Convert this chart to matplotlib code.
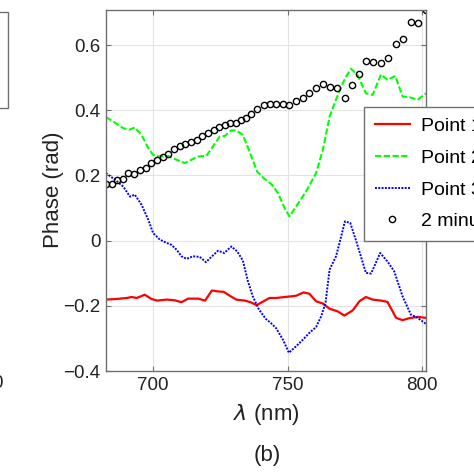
import matplotlib
matplotlib.use("Agg")
import matplotlib.pyplot as plt
from matplotlib.patches import Rectangle

plt.rcParams['font.family'] = ['Liberation Sans', 'DejaVu Sans']

# 2 minus 1 (circles)
lam_c = [682.6, 684.7, 686.8, 688.8, 690.9, 693.0, 695.2, 697.3, 699.4, 701.5,
         703.6, 705.7, 707.9, 710.0, 712.1, 714.2, 716.2, 718.4, 720.5, 722.6,
         724.6, 726.7, 728.8, 730.9, 732.9, 734.6, 736.5, 738.8, 741.1, 743.4,
         745.7, 748.3, 750.7, 753.2, 755.7, 758.1, 760.6, 763.3, 765.9, 768.4,
         771.2, 774.0, 776.6, 779.1, 781.9, 784.6, 787.4, 790.1, 792.9, 795.7,
         798.5, 801.4]
diff21 = [0.173, 0.173, 0.186, 0.189, 0.207, 0.205, 0.217, 0.224, 0.238, 0.246,
          0.256, 0.266, 0.281, 0.291, 0.296, 0.304, 0.309, 0.321, 0.330, 0.340,
          0.350, 0.355, 0.360, 0.362, 0.370, 0.375, 0.388, 0.403, 0.415, 0.420,
          0.420, 0.419, 0.417, 0.428, 0.438, 0.452, 0.467, 0.481, 0.470, 0.467,
          0.439, 0.477, 0.512, 0.552, 0.549, 0.546, 0.559, 0.604, 0.618, 0.670,
          0.667, 0.709]

# Point 1 (red)
lam_p1 = [682.6, 686.6, 690.3, 692.1, 694.0, 697.0, 699.5, 701.6, 705.1, 708.1,
          710.6, 713.1, 716.8, 719.4, 721.9, 724.2, 726.3, 728.5, 731.0, 734.1,
          736.3, 738.5, 740.9, 743.3, 745.8, 748.9, 751.4, 753.2, 756.0, 758.1,
          760.6, 763.1, 765.6, 768.6, 771.1, 774.2, 776.7, 779.1, 781.6, 784.7,
          787.1, 790.3, 792.7, 795.2, 798.3, 801.4]
p1 = [-0.181, -0.179, -0.176, -0.173, -0.176, -0.166, -0.179, -0.184, -0.181, -0.183,
      -0.189, -0.178, -0.178, -0.184, -0.153, -0.156, -0.157, -0.169, -0.181, -0.184,
      -0.189, -0.198, -0.187, -0.176, -0.176, -0.173, -0.171, -0.169, -0.159, -0.163,
      -0.186, -0.193, -0.209, -0.217, -0.230, -0.214, -0.186, -0.173, -0.181, -0.184,
      -0.188, -0.237, -0.244, -0.238, -0.234, -0.237]

# Point 2 (green)
lam_p2 = [682.6, 685.3, 689.0, 691.2, 693.3, 695.8, 698.3, 700.1, 702.6, 705.7,
          708.8, 711.9, 714.3, 716.8, 719.9, 722.3, 724.8, 726.7, 729.1, 731.0,
          733.4, 735.9, 738.7, 741.1, 744.3, 746.4, 748.9, 750.7, 753.2, 756.9,
          760.6, 763.1, 765.6, 767.4, 769.9, 771.7, 773.6, 776.0, 779.1, 781.6,
          784.7, 787.1, 790.0, 792.7, 795.2, 798.3, 801.4]
p2 = [0.379, 0.365, 0.345, 0.340, 0.347, 0.324, 0.284, 0.263, 0.258, 0.260,
      0.248, 0.238, 0.248, 0.258, 0.260, 0.289, 0.319, 0.321, 0.338, 0.338,
      0.324, 0.273, 0.212, 0.192, 0.171, 0.146, 0.100, 0.074, 0.105, 0.151,
      0.207, 0.278, 0.380, 0.420, 0.472, 0.503, 0.527, 0.508, 0.452, 0.447,
      0.510, 0.493, 0.505, 0.442, 0.440, 0.432, 0.452]

# Point 3 (blue)
lam_p3 = [682.6, 685.9, 689.0, 691.5, 693.3, 695.8, 698.3, 700.1, 702.6, 705.1,
          706.9, 708.8, 710.6, 712.5, 714.9, 717.4, 719.7, 721.7, 724.2, 726.5,
          729.1, 731.3, 733.4, 735.3, 737.1, 739.3, 741.9, 743.7, 745.7, 748.3,
          750.5, 753.2, 755.7, 758.1, 760.6, 762.5, 764.1, 765.6, 768.0, 769.3,
          771.3, 773.3, 775.7, 779.1, 781.0, 784.4, 787.1, 789.6, 792.7, 795.8,
          798.3, 801.3]
p3 = [0.207, 0.187, 0.166, 0.135, 0.141, 0.110, 0.064, 0.023, 0.003, -0.007,
      -0.013, -0.028, -0.048, -0.056, -0.048, -0.050, -0.066, -0.050, -0.031, -0.038,
      -0.018, -0.033, -0.061, -0.125, -0.171, -0.210, -0.240, -0.252, -0.268, -0.304,
      -0.344, -0.324, -0.304, -0.283, -0.265, -0.232, -0.191, -0.089, -0.048, -0.007,
      0.059, 0.054, -0.007, -0.099, -0.101, -0.038, -0.064, -0.094, -0.171, -0.227,
      -0.237, -0.255]

labels = ['Point 1', 'Point 2', 'Point 3', '2 minus 1']
xticks = [700, 750, 800]
yticks = [-0.4, -0.2, 0, 0.2, 0.4, 0.6]

fig = plt.figure(figsize=(4.74, 4.74), dpi=100)
ax = fig.add_axes([106/474, 1-371/474, 320/474, 361.5/474])

ax.plot(lam_p1, p1, color=(1, 0, 0), lw=1.6, label=labels[0])
ax.plot(lam_p2, p2, color=(0, 1, 0), lw=1.5, ls=(0, (3, 1.2)), label=labels[1])
ax.plot(lam_p3, p3, color=(0, 0, 1), lw=1.4, ls=(0, (1, 0.7)), label=labels[2])
ax.plot(lam_c, diff21, ls='none', marker='o', ms=4.5, mfc='none', mec='black',
        mew=1.0, label=labels[3])

ax.set_xlim(lam_c[0], lam_c[-1])
ax.set_ylim(-0.4, max(diff21))
ax.set_xticks(xticks)
ax.set_yticks(yticks)
ax.set_yticklabels(['\u22120.4', '\u22120.2', '0', '0.2', '0.4', '0.6'])
ax.grid(True, color='#e3e3e3', lw=0.8)
ax.set_axisbelow(True)
ax.tick_params(direction='in', length=3.5, width=0.8, top=True, right=True,
               labelsize=13.5, pad=4, color='#707070', labelcolor='#222222')
for s in ax.spines.values():
    s.set_color('#707070')
    s.set_linewidth(1.0)

ax.set_xlabel(r'$\lambda$ (nm)', fontsize=16, color='#222222')
ax.set_ylabel('Phase (rad)', fontsize=16, color='#222222')
ax.xaxis.set_label_coords(0.5, -0.086)
ax.yaxis.set_label_coords(-0.131, 0.5)

# legend is cut by the right edge of the figure, as in the source image
leg = ax.legend(loc='upper left', bbox_to_anchor=(364/474, 1-107/474),
                bbox_transform=fig.transFigure, fontsize=14, frameon=True,
                fancybox=False, borderpad=0.55, borderaxespad=0,
                handlelength=1.8, handletextpad=0.6, labelspacing=0.72,
                numpoints=1, framealpha=1)
leg.get_frame().set_edgecolor('#707070')
leg.get_frame().set_linewidth(1.0)
leg.set_clip_on(False)

# edge of neighbouring panel (a)
fig.add_artist(Rectangle((-0.05, 1-108/474), 0.05+8/474, 96/474,
                         transform=fig.transFigure, fill=False,
                         edgecolor='#707070', lw=1.0))
fig.text(4/474, 1-383/474, '800', ha='right', va='center', fontsize=13.5,
         color='#222222')

fig.text(267/474, 1-455/474, '(b)', ha='center', va='center', fontsize=16,
         color='#222222')

fig.savefig('out.png', dpi=100)
